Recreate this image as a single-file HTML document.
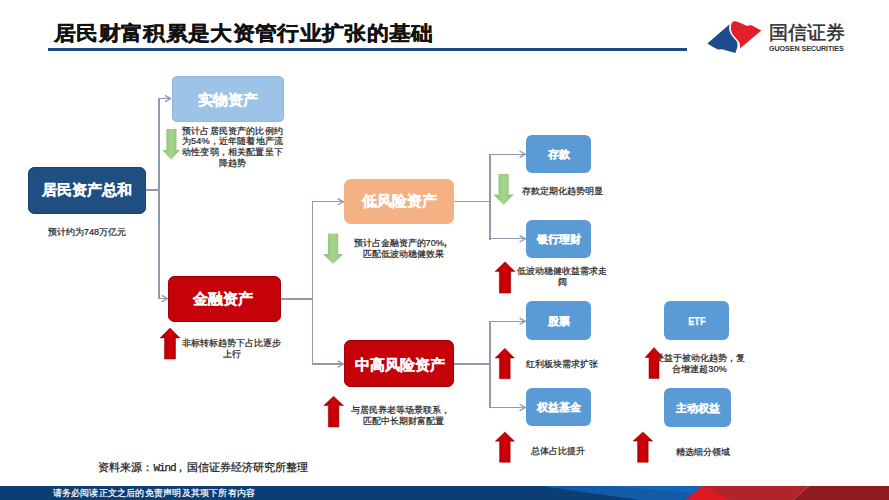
<!DOCTYPE html>
<html><head><meta charset="utf-8">
<style>
*{margin:0;padding:0;box-sizing:border-box}
html,body{width:889px;height:500px;overflow:hidden;background:#fff}
body{position:relative;font-family:"Liberation Sans",sans-serif;color:#222}
.a{position:absolute}
.box{position:absolute;border-radius:6px;color:#fff;font-weight:bold;-webkit-text-stroke:0.25px #fff;display:flex;align-items:center;justify-content:center;white-space:nowrap}
.t{position:absolute;font-size:9.2px;line-height:10.7px;text-align:center;white-space:nowrap;color:#262626;-webkit-text-stroke:0.22px #262626}
.ln{position:absolute;background:#8F9BAD}
svg{position:absolute;overflow:visible}
</style></head><body>
<div class="a" style="left:54px;top:21px;font-size:22px;font-weight:bold;line-height:26px;color:#111;white-space:nowrap;transform-origin:0 0;transform:scale(1.015,0.93);-webkit-text-stroke:0.35px #111">居民财富积累是大资管行业扩张的基础</div>
<div class="a" style="left:48px;top:48px;width:639px;height:3px;background:#1B4B7D"></div>

<!-- logo -->
<svg style="left:0;top:0" width="889" height="500">
<path d="M707.4,43.5 L729.6,24.2 C729,27 728.8,30 730.5,33.5 C732,36.5 734.5,38.5 736.5,41 C738.2,43.5 737.8,48 735.2,53 L722,49.2 L718,49.4 L713,47 Z" fill="#1E4B8C"/>
<path d="M733.2,21.6 C734.5,21 736,21.2 737.5,21.8 L747.3,26 L749,25.2 L751.5,25.2 L761.3,30.5 L740,48.6 C740.3,46 740,43.5 738.6,41.5 C737,39 734.5,37 732.8,34.5 C731,31.8 730.6,28.5 731,25.5 C731.3,23.8 732.2,22.3 733.2,21.6 Z" fill="#E2202B"/>
</svg>
<div class="a" style="left:769px;top:22px;font-size:19px;line-height:22px;color:#2d2d2d;white-space:nowrap;-webkit-text-stroke:0.45px #2d2d2d">国信证券</div>
<div class="a" style="left:769px;top:44px;font-size:7.2px;line-height:9px;font-weight:bold;color:#333;white-space:nowrap;letter-spacing:-0.1px">GUOSEN SECURITIES</div>

<!-- lines -->
<div class="ln" style="left:146px;top:189.40px;width:13px;height:1.4px"></div>
<div class="ln" style="left:158.15px;top:97.90px;width:1.5px;height:201.40px"></div>
<div class="ln" style="left:158.9px;top:97.90px;width:11.400000000000006px;height:1.4px"></div>
<div class="ln" style="left:158.9px;top:297.90px;width:8.299999999999983px;height:1.4px"></div>
<div class="ln" style="left:281px;top:298.30px;width:31.600000000000023px;height:1.4px"></div>
<div class="ln" style="left:311.85px;top:201.10px;width:1.5px;height:163.70px"></div>
<div class="ln" style="left:312.6px;top:201.10px;width:30.599999999999966px;height:1.4px"></div>
<div class="ln" style="left:312.6px;top:363.40px;width:30.599999999999966px;height:1.4px"></div>
<div class="ln" style="left:454px;top:201.10px;width:36px;height:1.4px"></div>
<div class="ln" style="left:489.25px;top:153.50px;width:1.5px;height:86.00px"></div>
<div class="ln" style="left:490px;top:153.50px;width:35px;height:1.4px"></div>
<div class="ln" style="left:490px;top:238.10px;width:35px;height:1.4px"></div>
<div class="ln" style="left:454px;top:363.20px;width:36px;height:1.4px"></div>
<div class="ln" style="left:489.25px;top:320.60px;width:1.5px;height:87.60px"></div>
<div class="ln" style="left:490px;top:320.60px;width:35px;height:1.4px"></div>
<div class="ln" style="left:490px;top:406.80px;width:35px;height:1.4px"></div>

<svg style="left:0;top:0" width="889" height="500" fill="none" stroke="#8F9BAD" stroke-width="1.4" stroke-linejoin="miter">
<path d="M164.9,95.4 L170.5,98.6 L164.9,101.8"/>
<path d="M161.8,295.4 L167.4,298.6 L161.8,301.8"/>
<path d="M337.7,198.6 L343.3,201.8 L337.7,205.0"/>
<path d="M337.7,360.9 L343.3,364.1 L337.7,367.3"/>
<path d="M519.6,151.0 L525.2,154.2 L519.6,157.4"/>
<path d="M519.6,235.6 L525.2,238.8 L519.6,242.0"/>
<path d="M519.6,318.1 L525.2,321.3 L519.6,324.5"/>
<path d="M519.6,404.3 L525.2,407.5 L519.6,410.7"/>
</svg>

<!-- boxes -->
<div class="box" style="left:28px;top:167px;width:118px;height:47px;background:#1E4F80;border-radius:7px;box-shadow:inset 0 0 0 1px #1A4270;font-size:15px">居民资产总和</div>
<div class="box" style="left:172px;top:75.5px;width:112px;height:46px;background:#9DC3E6;border-radius:5.5px;box-shadow:inset 0 0 0 1px #92B8DE;font-size:15px;padding-top:3px">实物资产</div>
<div class="box" style="left:168px;top:276px;width:113px;height:46px;background:#C5020A;box-shadow:inset 0 0 0 1px #A00008;border-radius:7px;font-size:15px;padding-right:4px;padding-top:1px">金融资产</div>
<div class="box" style="left:344px;top:179px;width:110px;height:45px;background:#F4B183;border-radius:7px;font-size:15px">低风险资产</div>
<div class="box" style="left:344px;top:340px;width:110px;height:47px;background:#C5020A;box-shadow:inset 0 0 0 1px #A00008;border-radius:7px;font-size:15px;padding-top:4px;padding-left:2px">中高风险资产</div>
<div class="box" style="left:526px;top:135px;width:65px;height:38px;background:#5B9BD5;font-size:11px;border-radius:6px;padding-top:1px">存款</div>
<div class="box" style="left:526px;top:220px;width:65px;height:38px;background:#5B9BD5;font-size:11px;border-radius:6px;padding-top:1px">银行理财</div>
<div class="box" style="left:526px;top:301px;width:65px;height:39px;background:#5B9BD5;font-size:11px;border-radius:6px;padding-top:1px">股票</div>
<div class="box" style="left:526px;top:388px;width:65px;height:38px;background:#5B9BD5;font-size:11px;border-radius:6px;padding-top:1px">权益基金</div>
<div class="box" style="left:664px;top:301px;width:65px;height:39px;background:#5B9BD5;font-size:11.5px;border-radius:6px;padding-top:0px"><span style="display:inline-block;transform:scaleX(0.8)">ETF</span></div>
<div class="box" style="left:664px;top:388px;width:67px;height:39px;background:#5B9BD5;font-size:11px;border-radius:6px;padding-top:1px">主动权益</div>

<!-- texts -->
<div class="t" style="left:28px;top:227px;width:118px">预计约为748万亿元</div>
<div class="t" style="left:177.5px;top:125.5px;width:110px;line-height:10.9px;letter-spacing:0.15px">预计占居民资产的比例约<br>为54%，近年随着地产流<br>动性变弱，相关配置呈下<br>降趋势</div>
<div class="t" style="left:176.5px;top:338px;width:110px">非标转标趋势下占比逐步<br>上行</div>
<div class="t" style="left:350px;top:238px;width:100px">预计占金融资产的70%<b style="font-family:'Liberation Sans';font-weight:bold">,</b><br><span style="position:relative;left:3px">匹配低波动稳健效果</span></div>
<div class="t" style="left:350px;top:405px;width:100px">与居民养老等场景联系，<br><span style="position:relative;left:3px">匹配中长期财富配置</span></div>
<div class="t" style="left:516px;top:186px;width:92px">存款定期化趋势明显</div>
<div class="t" style="left:512px;top:266px;width:100px">低波动稳健收益需求走<br>阔</div>
<div class="t" style="left:516px;top:358.5px;width:92px">红利板块需求扩张</div>
<div class="t" style="left:512px;top:446px;width:92px">总体占比提升</div>
<div class="t" style="left:649.5px;top:353px;width:100px">受益于被动化趋势，复<br>合增速超30%</div>
<div class="t" style="left:653px;top:447px;width:100px">精选细分领域</div>

<!-- block arrows -->
<svg style="left:0;top:0" width="889" height="500">
<defs>
<linearGradient id="gg" x1="0" x2="1" y1="0" y2="0"><stop offset="0" stop-color="#8DBB78"/><stop offset="0.5" stop-color="#A6D68C"/><stop offset="1" stop-color="#8DBB78"/></linearGradient>
<linearGradient id="rg" x1="0" x2="1" y1="0" y2="0"><stop offset="0" stop-color="#A30000"/><stop offset="0.5" stop-color="#D2000A"/><stop offset="1" stop-color="#A30000"/></linearGradient>
</defs>
<g fill="url(#gg)">
<path d="M166.3,129 h10.2 v21 h3.5 l-8.8,9.8 l-8.8,-9.8 h3.9 z"/>
<path d="M328,233.5 h10.2 v20.5 h5 l-10.1,10 l-10.1,-10 h5 z"/>
<path d="M498.5,174 h10.2 v20.5 h5 l-10.1,10.5 l-10.1,-10.5 h5 z"/>
</g>
<g fill="url(#rg)" stroke="#9A0000" stroke-width="0.5">
<path d="M170,328 l10,10 h-4.5 v21 h-11 v-21 h-4.5 z"/>
<path d="M333.6,396.3 l9.9,9.3 h-4.6 v21.4 h-10.6 v-21.4 h-4.6 z"/>
<path d="M505,261.8 l10,9.8 h-4.3 v21.5 h-11.4 v-21.5 h-4.3 z"/>
<path d="M504.8,348.3 l9.6,9.7 h-4.2 v20.8 h-10.8 v-20.8 h-4.2 z"/>
<path d="M504.9,432 l9.6,9.2 h-4.3 v21.1 h-10.6 v-21.1 h-4.3 z"/>
<path d="M654,347.5 l9,10 h-4 v21 h-10 v-21 h-4 z"/>
<path d="M642.9,432 l9.8,9 h-4.5 v21.3 h-10.6 v-21.3 h-4.5 z"/>
</g>
</svg>

<div class="a" style="left:98px;top:460px;font-size:11px;line-height:14px;color:#222;white-space:nowrap;-webkit-text-stroke:0.25px #222;letter-spacing:0.08px">资料来源：<span style="font-family:'Liberation Mono',monospace;letter-spacing:-1.1px">Wind</span>，国信证券经济研究所整理</div>

<!-- footer -->
<svg style="left:0;top:486px" width="889" height="14">
<rect x="0" y="0" width="705" height="14" fill="#0C3D74"/>
<polygon points="540,0 703,0 685,14 640,14" fill="#125BA8"/>
<polygon points="610,0 703,0 693,7" fill="#1C6CC2" opacity="0.6"/>
<polygon points="703,0 809,0 793,14 685,14" fill="#B0242A"/>
<polygon points="703,0 730,14 685,14" fill="#E01A22"/>
<polygon points="809,0 889,0 889,14 793,14" fill="#8E1B1F"/>
</svg>
<div class="a" style="left:52.5px;top:487px;font-size:9.2px;line-height:12px;color:#fff;white-space:nowrap;-webkit-text-stroke:0.2px #fff;letter-spacing:0.22px">请务必阅读正文之后的免责声明及其项下所有内容</div>
</body></html>
